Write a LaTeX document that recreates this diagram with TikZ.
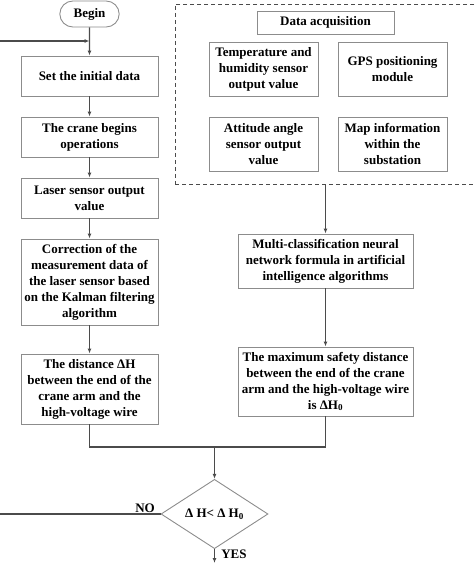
\documentclass[tikz,border=0pt]{standalone}
\usepackage{fontspec}
\setmainfont{Liberation Serif}
\usetikzlibrary{shapes.geometric, shapes.misc, arrows.meta, positioning}
\definecolor{boxgray}{RGB}{140,140,140}
\definecolor{linegray}{RGB}{75,75,75}

\begin{document}
\begin{tikzpicture}[x=1pt,y=-1pt,
    font=\fontsize{13}{16}\selectfont\bfseries,
    procbox/.style={rectangle,draw=boxgray,line width=0.9pt,align=center,inner sep=1pt},
    flow/.style={draw=linegray,line width=1.2pt},
    >={Latex[length=5pt,width=4pt]}]
    \useasboundingbox (0,0) rectangle (474,564);

    % Linke Spalte
    \node[rounded rectangle,draw=boxgray,line width=0.9pt,minimum width=66pt,minimum height=26pt] (begin) at (89.5,14) {Begin};
    \node[procbox,minimum width=137pt,minimum height=40pt] (init) at (89.5,76) {Set the initial data};
    \node[procbox,minimum width=137pt,minimum height=40pt] (crane) at (89.5,137) {The crane begins\\operations};
    \node[procbox,minimum width=137pt,minimum height=40pt] (laser) at (89.5,198) {Laser sensor output\\value};
    \node[procbox,minimum width=137pt,minimum height=86pt] (kalman) at (89.5,282) {Correction of the\\measurement data of\\the laser sensor based\\on the Kalman filtering\\algorithm};
    \node[procbox,minimum width=137pt,minimum height=70pt] (dist) at (89.5,389) {The distance ΔH\\between the end of the\\crane arm and the\\high-voltage wire};

    % Datenerfassung
    \node[draw=linegray,dashed,dash pattern=on 4pt off 3pt,line width=0.9pt,minimum width=301pt,minimum height=180pt] (grp) at (325.5,94) {};
    \node[procbox,minimum width=137pt,minimum height=23pt] (acq) at (325.5,22.5) {Data acquisition};
    \node[procbox,minimum width=109pt,minimum height=54pt] (temp) at (263.5,69) {Temperature and\\humidity sensor\\output value};
    \node[procbox,minimum width=109pt,minimum height=54pt] (gps) at (392.5,69) {GPS positioning\\module};
    \node[procbox,minimum width=109pt,minimum height=54pt] (att) at (263.5,144) {Attitude angle\\sensor output\\value};
    \node[procbox,minimum width=109pt,minimum height=54pt] (map) at (392.5,144) {Map information\\within the\\substation};

    % Rechte Spalte
    \node[procbox,minimum width=175pt,minimum height=54pt] (multi) at (325.5,261) {Multi-classification neural\\network formula in artificial\\intelligence algorithms};
    \node[procbox,minimum width=175pt,minimum height=69pt] (maxd) at (325.5,381.5) {The maximum safety distance\\between the end of the crane\\arm and the high-voltage wire\\is ΔH\textsubscript{0}};

    % Entscheidung
    \node[diamond,draw=boxgray,line width=0.9pt,minimum width=107pt,minimum height=62pt,inner sep=0pt] (dec) at (214.5,514) {Δ H< Δ H\textsubscript{0}};
    \node (no) at (145,508) {NO};
    \node (yes) at (234,554) {YES};

    \coordinate (entry) at (89.5,41);
    \coordinate (loopL) at (-3,514);
    \coordinate (merge) at (214.5,447);
    \coordinate (out) at (214.5,563);

    \draw[flow,->] (begin) -- (init);
    \draw[flow,->] (dec.west) -- (loopL) |- (entry);
    \draw[flow,->] (init) -- (crane);
    \draw[flow,->] (crane) -- (laser);
    \draw[flow,->] (laser) -- (kalman);
    \draw[flow,->] (kalman) -- (dist);
    \draw[flow,->] (grp) -- (multi);
    \draw[flow,->] (multi) -- (maxd);
    \draw[flow] (dist) |- (merge);
    \draw[flow] (maxd) |- (merge);
    \draw[flow,->] (merge) -- (dec);
    \draw[flow,->] (dec) -- (out);
\end{tikzpicture}
\end{document}
